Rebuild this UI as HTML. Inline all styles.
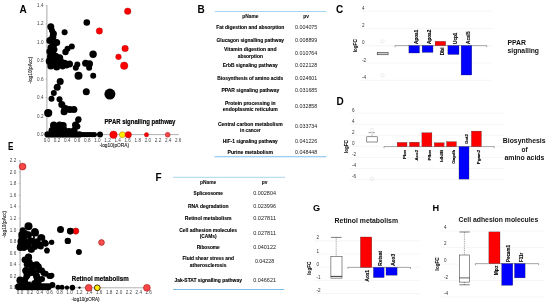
<!DOCTYPE html>
<html><head><meta charset="utf-8"><title>Figure</title>
<style>
html,body{margin:0;padding:0;background:#fff;}
body{width:550px;height:305px;overflow:hidden;}
svg{display:block;}
text{font-family:"Liberation Sans",sans-serif;fill:#000;}
.tk{font-size:4.6px;fill:#444;}
.tk2{font-size:4.6px;fill:#333;}
.ax{font-size:4.7px;fill:#222;stroke:#222;stroke-width:0.1px;}
.lbl{font-size:10px;font-weight:bold;}
.cal{font-weight:bold;fill:#000;stroke:#000;stroke-width:0.18px;}
.th{font-size:4.9px;font-weight:bold;fill:#111;stroke:#111;stroke-width:0.08px;}
.td{font-size:4.9px;font-weight:bold;fill:#000;stroke:#000;stroke-width:0.1px;}
.pv{font-size:5.1px;fill:#222;}
.gl{font-weight:bold;fill:#000;stroke:#000;stroke-width:0.12px;}
.lf{font-size:4.6px;stroke:#111;stroke-width:0.1px;font-weight:bold;fill:#111;}
.ttl{font-size:7.2px;font-weight:bold;fill:#111;}
</style></head><body>
<svg width="550" height="305" viewBox="0 0 550 305">
<rect x="0" y="0" width="550" height="305" fill="#fff"/>
<g id="panelA">
<line x1="46.9" y1="5.2" x2="46.9" y2="134.5" stroke="#909090" stroke-width="0.8"/>
<line x1="46.9" y1="134.6" x2="178.8" y2="134.6" stroke="#a8a8a8" stroke-width="0.9"/>
<line x1="45.5" y1="134.5" x2="46.9" y2="134.5" stroke="#9a9a9a" stroke-width="0.5"/>
<text x="43.5" y="136.1" class="tk" text-anchor="end">0.0</text>
<line x1="45.5" y1="116.0" x2="46.9" y2="116.0" stroke="#9a9a9a" stroke-width="0.5"/>
<text x="43.5" y="117.6" class="tk" text-anchor="end">0.2</text>
<line x1="45.5" y1="97.6" x2="46.9" y2="97.6" stroke="#9a9a9a" stroke-width="0.5"/>
<text x="43.5" y="99.2" class="tk" text-anchor="end">0.4</text>
<line x1="45.5" y1="79.1" x2="46.9" y2="79.1" stroke="#9a9a9a" stroke-width="0.5"/>
<text x="43.5" y="80.7" class="tk" text-anchor="end">0.6</text>
<line x1="45.5" y1="60.7" x2="46.9" y2="60.7" stroke="#9a9a9a" stroke-width="0.5"/>
<text x="43.5" y="62.3" class="tk" text-anchor="end">0.8</text>
<line x1="45.5" y1="42.2" x2="46.9" y2="42.2" stroke="#9a9a9a" stroke-width="0.5"/>
<text x="43.5" y="43.8" class="tk" text-anchor="end">1.0</text>
<line x1="45.5" y1="23.7" x2="46.9" y2="23.7" stroke="#9a9a9a" stroke-width="0.5"/>
<text x="43.5" y="25.3" class="tk" text-anchor="end">1.2</text>
<line x1="45.5" y1="5.3" x2="46.9" y2="5.3" stroke="#9a9a9a" stroke-width="0.5"/>
<text x="43.5" y="6.9" class="tk" text-anchor="end">1.4</text>
<text x="46.9" y="141.7" class="tk" text-anchor="middle">0.0</text>
<text x="57.0" y="141.7" class="tk" text-anchor="middle">0.2</text>
<text x="67.1" y="141.7" class="tk" text-anchor="middle">0.4</text>
<text x="77.2" y="141.7" class="tk" text-anchor="middle">0.6</text>
<text x="87.3" y="141.7" class="tk" text-anchor="middle">0.8</text>
<text x="97.4" y="141.7" class="tk" text-anchor="middle">1.0</text>
<text x="107.5" y="141.7" class="tk" text-anchor="middle">1.2</text>
<text x="117.6" y="141.7" class="tk" text-anchor="middle">1.4</text>
<text x="127.7" y="141.7" class="tk" text-anchor="middle">1.6</text>
<text x="137.8" y="141.7" class="tk" text-anchor="middle">1.8</text>
<text x="147.9" y="141.7" class="tk" text-anchor="middle">2.0</text>
<text x="158.0" y="141.7" class="tk" text-anchor="middle">2.2</text>
<text x="168.1" y="141.7" class="tk" text-anchor="middle">2.4</text>
<text x="178.2" y="141.7" class="tk" text-anchor="middle">2.6</text>
<text x="99.5" y="146.9" class="ax" textLength="29.5" lengthAdjust="spacingAndGlyphs">-log10(pORA)</text>
<text transform="translate(32.4,83.7) rotate(-90)" class="ax" textLength="27" lengthAdjust="spacingAndGlyphs">-log10(pAcc)</text>
<circle cx="86.8" cy="22.5" r="3.3" fill="#000"/>
<circle cx="50.8" cy="26.8" r="3.5" fill="#000"/>
<circle cx="64.6" cy="32.3" r="3" fill="#000"/>
<circle cx="53.4" cy="33.7" r="3.5" fill="#000"/>
<circle cx="52.8" cy="37.6" r="3.5" fill="#000"/>
<circle cx="49.8" cy="40.5" r="3.5" fill="#000"/>
<circle cx="56.7" cy="42.5" r="3.5" fill="#000"/>
<circle cx="53.8" cy="44.5" r="3.5" fill="#000"/>
<circle cx="71.8" cy="46.4" r="3" fill="#000"/>
<circle cx="67.5" cy="48.8" r="3" fill="#000"/>
<circle cx="65.5" cy="52" r="3.2" fill="#000"/>
<circle cx="49.8" cy="51.4" r="3.5" fill="#000"/>
<circle cx="52.8" cy="53.3" r="3.5" fill="#000"/>
<circle cx="93.1" cy="54.3" r="3.7" fill="#000"/>
<circle cx="55.7" cy="56.3" r="3.5" fill="#000"/>
<circle cx="59.7" cy="57.8" r="3.5" fill="#000"/>
<circle cx="49.8" cy="61.2" r="4" fill="#000"/>
<circle cx="54.7" cy="61.2" r="4" fill="#000"/>
<circle cx="60.6" cy="61.2" r="3.5" fill="#000"/>
<circle cx="64.6" cy="63.2" r="3.5" fill="#000"/>
<circle cx="69.5" cy="64.1" r="3.5" fill="#000"/>
<circle cx="85.6" cy="63.2" r="3.5" fill="#000"/>
<circle cx="89.5" cy="63.7" r="3.5" fill="#000"/>
<circle cx="77.3" cy="64.5" r="3" fill="#000"/>
<circle cx="75.8" cy="67.7" r="3" fill="#000"/>
<circle cx="89.1" cy="67.7" r="3" fill="#000"/>
<circle cx="50.8" cy="66.1" r="3.5" fill="#000"/>
<circle cx="56.7" cy="67.1" r="3.5" fill="#000"/>
<circle cx="62.6" cy="66.5" r="3" fill="#000"/>
<circle cx="78.5" cy="75.7" r="4" fill="#000"/>
<circle cx="93.2" cy="75.7" r="3" fill="#000"/>
<circle cx="60.2" cy="81.5" r="3.5" fill="#000"/>
<circle cx="57.2" cy="87.2" r="3.5" fill="#000"/>
<circle cx="53.8" cy="92.9" r="3" fill="#000"/>
<circle cx="86.3" cy="91.8" r="3.5" fill="#000"/>
<circle cx="109.9" cy="94.1" r="5.5" fill="#000"/>
<circle cx="51.5" cy="98.7" r="3" fill="#000"/>
<circle cx="59.5" cy="99.3" r="3" fill="#000"/>
<circle cx="61.8" cy="104.4" r="3.5" fill="#000"/>
<circle cx="65.2" cy="109" r="4" fill="#000"/>
<circle cx="64.1" cy="111.7" r="3.5" fill="#000"/>
<circle cx="69.8" cy="109.4" r="3.5" fill="#000"/>
<circle cx="73.9" cy="109.4" r="3.5" fill="#000"/>
<circle cx="48.2" cy="113.1" r="4.1" fill="#000"/>
<circle cx="78.5" cy="119.3" r="3" fill="#000"/>
<circle cx="75.5" cy="125" r="3.5" fill="#000"/>
<circle cx="53.8" cy="125" r="3.5" fill="#000"/>
<circle cx="59.5" cy="125" r="3.5" fill="#000"/>
<circle cx="62.9" cy="125" r="3" fill="#000"/>
<circle cx="56" cy="129.1" r="3.5" fill="#000"/>
<circle cx="64.1" cy="130.1" r="3.5" fill="#000"/>
<circle cx="68.7" cy="131.5" r="3.0" fill="#000"/>
<circle cx="74.4" cy="130.1" r="3" fill="#000"/>
<circle cx="100" cy="134.5" r="3" fill="#000"/>
<circle cx="51" cy="47.5" r="3.5" fill="#000"/>
<circle cx="54.5" cy="49.5" r="3" fill="#000"/>
<circle cx="50.5" cy="56.5" r="3.5" fill="#000"/>
<circle cx="57.5" cy="62.5" r="3.5" fill="#000"/>
<circle cx="52" cy="30.5" r="3" fill="#000"/>
<circle cx="53" cy="64" r="3.5" fill="#000"/>
<circle cx="60" cy="64.5" r="3" fill="#000"/>
<circle cx="66.5" cy="65.5" r="3" fill="#000"/>
<circle cx="53.6" cy="125.5" r="3.5" fill="#000"/>
<circle cx="60.2" cy="125.5" r="3.5" fill="#000"/>
<circle cx="63.5" cy="125.5" r="3.2" fill="#000"/>
<circle cx="78.2" cy="120.1" r="3" fill="#000"/>
<circle cx="77.4" cy="126.4" r="3" fill="#000"/>
<circle cx="52" cy="130.5" r="3.5" fill="#000"/>
<circle cx="62.6" cy="129.6" r="3.5" fill="#000"/>
<circle cx="69.2" cy="131.3" r="3.2" fill="#000"/>
<circle cx="74.1" cy="130.5" r="3.2" fill="#000"/>
<circle cx="58" cy="130.5" r="3.2" fill="#000"/>
<circle cx="66" cy="131.5" r="3" fill="#000"/>
<circle cx="47.5" cy="134.4" r="3.1" fill="#000"/>
<circle cx="50.4" cy="134.4" r="3.1" fill="#000"/>
<circle cx="53.3" cy="134.4" r="3.1" fill="#000"/>
<circle cx="56.2" cy="134.4" r="3.1" fill="#000"/>
<circle cx="59.1" cy="134.4" r="3.1" fill="#000"/>
<circle cx="62.0" cy="134.4" r="3.1" fill="#000"/>
<circle cx="64.9" cy="134.4" r="3.1" fill="#000"/>
<circle cx="67.8" cy="134.4" r="3.1" fill="#000"/>
<circle cx="70.7" cy="134.4" r="3.1" fill="#000"/>
<circle cx="73.6" cy="134.4" r="3.1" fill="#000"/>
<circle cx="76.5" cy="134.4" r="3.1" fill="#000"/>
<circle cx="79.4" cy="134.4" r="3.1" fill="#000"/>
<circle cx="80.0" cy="134.6" r="2.6" fill="#000"/>
<circle cx="82.4" cy="134.6" r="2.6" fill="#000"/>
<circle cx="84.8" cy="134.6" r="2.6" fill="#000"/>
<circle cx="87.2" cy="134.6" r="2.6" fill="#000"/>
<circle cx="89.6" cy="134.6" r="2.6" fill="#000"/>
<circle cx="92.0" cy="134.6" r="2.6" fill="#000"/>
<circle cx="94.4" cy="134.6" r="2.6" fill="#000"/>
<circle cx="127.7" cy="11.2" r="3.3" fill="#ff0000" stroke="#7a0000" stroke-width="0.3"/>
<circle cx="99.4" cy="31.0" r="3.2" fill="#ff0000" stroke="#7a0000" stroke-width="0.3"/>
<circle cx="125.1" cy="48.5" r="3.3" fill="#ff0000" stroke="#7a0000" stroke-width="0.3"/>
<circle cx="118.5" cy="56.8" r="2.9" fill="#ff0000" stroke="#7a0000" stroke-width="0.3"/>
<circle cx="124.2" cy="65.7" r="3.8" fill="#ff0000" stroke="#7a0000" stroke-width="0.3"/>
<circle cx="113.5" cy="134.7" r="3.8" fill="#ff0000" stroke="#7a0000" stroke-width="0.3"/>
<circle cx="122.3" cy="134.7" r="3" fill="#ffee00" stroke="#7a0000" stroke-width="0.3"/>
<circle cx="128.3" cy="134.7" r="3.2" fill="#ff0000" stroke="#7a0000" stroke-width="0.3"/>
<circle cx="146.5" cy="134.7" r="2.2" fill="#ff0000" stroke="#7a0000" stroke-width="0.3"/>
<circle cx="167.7" cy="134.7" r="2.5" fill="#f64545" stroke="#7a0000" stroke-width="0.3"/>
<text x="104.4" y="124" class="cal" font-size="7.6" textLength="71" lengthAdjust="spacingAndGlyphs">PPAR signalling pathway</text>
<text x="19.4" y="12.8" class="lbl">A</text>
</g>
<g id="panelE">
<line x1="20.1" y1="160.5" x2="20.1" y2="287.8" stroke="#8c8c8c" stroke-width="0.8"/>
<line x1="19.8" y1="287.8" x2="149" y2="287.8" stroke="#a8a8a8" stroke-width="0.9"/>
<line x1="18.6" y1="287.6" x2="20.1" y2="287.6" stroke="#9a9a9a" stroke-width="0.5"/>
<text x="16.2" y="289.2" class="tk" text-anchor="end">0.0</text>
<line x1="18.6" y1="276.1" x2="20.1" y2="276.1" stroke="#9a9a9a" stroke-width="0.5"/>
<text x="16.2" y="277.7" class="tk" text-anchor="end">0.2</text>
<line x1="18.6" y1="264.5" x2="20.1" y2="264.5" stroke="#9a9a9a" stroke-width="0.5"/>
<text x="16.2" y="266.1" class="tk" text-anchor="end">0.4</text>
<line x1="18.6" y1="253.0" x2="20.1" y2="253.0" stroke="#9a9a9a" stroke-width="0.5"/>
<text x="16.2" y="254.6" class="tk" text-anchor="end">0.6</text>
<line x1="18.6" y1="241.4" x2="20.1" y2="241.4" stroke="#9a9a9a" stroke-width="0.5"/>
<text x="16.2" y="243.0" class="tk" text-anchor="end">0.8</text>
<line x1="18.6" y1="229.9" x2="20.1" y2="229.9" stroke="#9a9a9a" stroke-width="0.5"/>
<text x="16.2" y="231.5" class="tk" text-anchor="end">1.0</text>
<line x1="18.6" y1="218.3" x2="20.1" y2="218.3" stroke="#9a9a9a" stroke-width="0.5"/>
<text x="16.2" y="219.9" class="tk" text-anchor="end">1.2</text>
<line x1="18.6" y1="206.8" x2="20.1" y2="206.8" stroke="#9a9a9a" stroke-width="0.5"/>
<text x="16.2" y="208.3" class="tk" text-anchor="end">1.4</text>
<line x1="18.6" y1="195.2" x2="20.1" y2="195.2" stroke="#9a9a9a" stroke-width="0.5"/>
<text x="16.2" y="196.8" class="tk" text-anchor="end">1.6</text>
<line x1="18.6" y1="183.7" x2="20.1" y2="183.7" stroke="#9a9a9a" stroke-width="0.5"/>
<text x="16.2" y="185.3" class="tk" text-anchor="end">1.8</text>
<line x1="18.6" y1="172.1" x2="20.1" y2="172.1" stroke="#9a9a9a" stroke-width="0.5"/>
<text x="16.2" y="173.7" class="tk" text-anchor="end">2.0</text>
<line x1="18.6" y1="160.6" x2="20.1" y2="160.6" stroke="#9a9a9a" stroke-width="0.5"/>
<text x="16.2" y="162.2" class="tk" text-anchor="end">2.2</text>
<text x="20.0" y="294.1" class="tk" text-anchor="middle">0.0</text>
<text x="29.9" y="294.1" class="tk" text-anchor="middle">0.2</text>
<text x="39.8" y="294.1" class="tk" text-anchor="middle">0.4</text>
<text x="49.7" y="294.1" class="tk" text-anchor="middle">0.6</text>
<text x="59.6" y="294.1" class="tk" text-anchor="middle">0.8</text>
<text x="69.5" y="294.1" class="tk" text-anchor="middle">1.0</text>
<text x="79.4" y="294.1" class="tk" text-anchor="middle">1.2</text>
<text x="89.3" y="294.1" class="tk" text-anchor="middle">1.4</text>
<text x="99.2" y="294.1" class="tk" text-anchor="middle">1.6</text>
<text x="109.1" y="294.1" class="tk" text-anchor="middle">1.8</text>
<text x="119.0" y="294.1" class="tk" text-anchor="middle">2.0</text>
<text x="128.9" y="294.1" class="tk" text-anchor="middle">2.2</text>
<text x="138.8" y="294.1" class="tk" text-anchor="middle">2.4</text>
<text x="148.7" y="294.1" class="tk" text-anchor="middle">2.6</text>
<text x="71.6" y="300.7" class="ax" textLength="28" lengthAdjust="spacingAndGlyphs">-log10(pORA)</text>
<text transform="translate(6.2,237.8) rotate(-90)" class="ax" textLength="27" lengthAdjust="spacingAndGlyphs">-log10(pAcc)</text>
<circle cx="28.5" cy="226.2" r="4" fill="#000"/>
<circle cx="60.5" cy="229.4" r="3.5" fill="#000"/>
<circle cx="70.3" cy="231.1" r="3.2" fill="#000"/>
<circle cx="22.8" cy="230.3" r="3" fill="#000"/>
<circle cx="34.6" cy="231.8" r="3.5" fill="#000"/>
<circle cx="22.3" cy="234.8" r="4" fill="#000"/>
<circle cx="28.5" cy="234.8" r="3.5" fill="#000"/>
<circle cx="40.8" cy="237.7" r="3.5" fill="#000"/>
<circle cx="23.5" cy="239.7" r="4" fill="#000"/>
<circle cx="30.9" cy="240.9" r="4" fill="#000"/>
<circle cx="37.1" cy="241.7" r="3.5" fill="#000"/>
<circle cx="67.8" cy="240.9" r="3.2" fill="#000"/>
<circle cx="51.8" cy="242.2" r="2.5" fill="#000"/>
<circle cx="45.7" cy="243.4" r="3" fill="#000"/>
<circle cx="21.1" cy="244.6" r="3.5" fill="#000"/>
<circle cx="27.2" cy="245.8" r="4" fill="#000"/>
<circle cx="34.6" cy="246.6" r="3.5" fill="#000"/>
<circle cx="40.8" cy="246.6" r="3" fill="#000"/>
<circle cx="30.9" cy="249.5" r="3" fill="#000"/>
<circle cx="46.9" cy="250" r="2.5" fill="#000"/>
<circle cx="78.9" cy="252" r="3" fill="#000"/>
<circle cx="28.5" cy="256.9" r="3.5" fill="#000"/>
<circle cx="24.8" cy="259.4" r="3" fill="#000"/>
<circle cx="27.2" cy="264.3" r="3.5" fill="#000"/>
<circle cx="33.4" cy="265.5" r="3.5" fill="#000"/>
<circle cx="38.3" cy="266.8" r="3.5" fill="#000"/>
<circle cx="26" cy="270.5" r="3.5" fill="#000"/>
<circle cx="42" cy="270.5" r="3" fill="#000"/>
<circle cx="30.9" cy="272.9" r="3.2" fill="#000"/>
<circle cx="45.7" cy="273.7" r="3" fill="#000"/>
<circle cx="49.4" cy="276.1" r="3" fill="#000"/>
<circle cx="20.2" cy="280.2" r="3.8" fill="#000"/>
<circle cx="26" cy="279.1" r="3.5" fill="#000"/>
<circle cx="37.1" cy="277.9" r="3.5" fill="#000"/>
<circle cx="42" cy="279.1" r="3" fill="#000"/>
<circle cx="22.3" cy="283.5" r="4" fill="#000"/>
<circle cx="34.6" cy="283.5" r="3.5" fill="#000"/>
<circle cx="79.5" cy="287.6" r="1.2" fill="#000"/>
<circle cx="25" cy="233.5" r="3.5" fill="#000"/>
<circle cx="22" cy="237.5" r="3.5" fill="#000"/>
<circle cx="35.4" cy="232.9" r="3.5" fill="#000"/>
<circle cx="45.5" cy="243.5" r="3" fill="#000"/>
<circle cx="31.5" cy="249.3" r="3.5" fill="#000"/>
<circle cx="20.3" cy="247.4" r="3.5" fill="#000"/>
<circle cx="47" cy="250.9" r="2.6" fill="#000"/>
<circle cx="51.5" cy="242.3" r="2.5" fill="#000"/>
<circle cx="23.4" cy="233" r="3.5" fill="#000"/>
<circle cx="35.2" cy="231.8" r="3.5" fill="#000"/>
<circle cx="31.7" cy="237.5" r="3.2" fill="#000"/>
<circle cx="41.8" cy="237.7" r="3.5" fill="#000"/>
<circle cx="21" cy="241.2" r="3.5" fill="#000"/>
<circle cx="27" cy="242.4" r="3.5" fill="#000"/>
<circle cx="38.8" cy="242.4" r="3.5" fill="#000"/>
<circle cx="44.7" cy="242.4" r="3" fill="#000"/>
<circle cx="19.9" cy="247.1" r="3" fill="#000"/>
<circle cx="31" cy="248.8" r="3" fill="#000"/>
<circle cx="40" cy="246" r="3" fill="#000"/>
<circle cx="47" cy="250.2" r="2.5" fill="#000"/>
<circle cx="24" cy="248" r="3" fill="#000"/>
<circle cx="28.6" cy="257.3" r="3.5" fill="#000"/>
<circle cx="24.6" cy="260" r="3" fill="#000"/>
<circle cx="29.3" cy="262.5" r="3.5" fill="#000"/>
<circle cx="36.4" cy="264.8" r="3.5" fill="#000"/>
<circle cx="31.7" cy="268.3" r="3.5" fill="#000"/>
<circle cx="38.8" cy="269.5" r="3.5" fill="#000"/>
<circle cx="25.8" cy="270.7" r="3.5" fill="#000"/>
<circle cx="43.5" cy="273" r="3" fill="#000"/>
<circle cx="50.5" cy="276.1" r="2.8" fill="#000"/>
<circle cx="27" cy="275.4" r="3.5" fill="#000"/>
<circle cx="36.4" cy="275.4" r="3.5" fill="#000"/>
<circle cx="23.4" cy="281.3" r="3.5" fill="#000"/>
<circle cx="37.6" cy="281.8" r="4" fill="#000"/>
<circle cx="28" cy="283.5" r="3" fill="#000"/>
<circle cx="33.5" cy="272" r="3" fill="#000"/>
<circle cx="51.6" cy="275.6" r="2.8" fill="#000"/>
<circle cx="52.4" cy="285" r="3" fill="#000"/>
<circle cx="58" cy="287.2" r="2.5" fill="#000"/>
<circle cx="62" cy="287.2" r="2.5" fill="#000"/>
<circle cx="67" cy="287.6" r="2.2" fill="#000"/>
<circle cx="72.4" cy="287.6" r="2.8" fill="#000"/>
<circle cx="18.5" cy="286.8" r="3.5" fill="#000"/>
<circle cx="21.2" cy="286.8" r="3.5" fill="#000"/>
<circle cx="23.9" cy="286.8" r="3.5" fill="#000"/>
<circle cx="26.6" cy="286.8" r="3.5" fill="#000"/>
<circle cx="29.3" cy="286.8" r="3.5" fill="#000"/>
<circle cx="32.0" cy="286.8" r="3.5" fill="#000"/>
<circle cx="34.7" cy="286.8" r="3.5" fill="#000"/>
<circle cx="37.400000000000006" cy="286.8" r="3.5" fill="#000"/>
<circle cx="40.1" cy="286.8" r="3.5" fill="#000"/>
<circle cx="42.8" cy="286.8" r="3.5" fill="#000"/>
<circle cx="45.5" cy="286.8" r="3.5" fill="#000"/>
<circle cx="48.2" cy="286.8" r="3.5" fill="#000"/>
<ellipse cx="30.1" cy="279.6" rx="2.7" ry="1.5" transform="rotate(-42 30.1 279.6)" fill="#fff"/>
<circle cx="22.6" cy="166.6" r="3.4" fill="#f84545" stroke="#9a1414" stroke-width="0.6"/>
<circle cx="75.8" cy="231.1" r="3.1" fill="#ff0000" stroke="#9a1414" stroke-width="0.6"/>
<circle cx="101.5" cy="242.5" r="2.9" fill="#f84d4d" stroke="#9a1414" stroke-width="0.6"/>
<circle cx="88.7" cy="287.8" r="3.4" fill="#f84545" stroke="#9a1414" stroke-width="0.6"/>
<circle cx="146.9" cy="287.8" r="3.4" fill="#f84545" stroke="#9a1414" stroke-width="0.6"/>
<circle cx="97.3" cy="287.8" r="2.9" fill="#ffee00" stroke="#200" stroke-width="0.8"/>
<circle cx="70.3" cy="231.1" r="3.4" fill="#000"/>
<circle cx="32.3" cy="236.9" r="0.9" fill="#fff"/>
<circle cx="41.1" cy="241.1" r="0.7" fill="#fff"/>
<text x="71.7" y="281.3" class="cal" font-size="7.5" textLength="57" lengthAdjust="spacingAndGlyphs">Retinol metabolism</text>
<text x="7.9" y="150.2" class="lbl" textLength="5.4" lengthAdjust="spacingAndGlyphs">E</text>
</g>
<g id="tableB">
<text x="197.6" y="13.2" class="lbl">B</text>
<line x1="214.8" y1="11.5" x2="326.4" y2="11.5" stroke="#6cb8e6" stroke-width="0.6"/>
<line x1="214.5" y1="156.7" x2="326.4" y2="156.7" stroke="#7cc0ea" stroke-width="1.1"/>
<text x="250.3" y="18" class="th" text-anchor="middle">pName</text>
<text x="306.2" y="18" class="th" text-anchor="middle">pv</text>
<text x="216.2" y="28.7" class="td" textLength="68.2" lengthAdjust="spacingAndGlyphs">Fat digestion and absorption</text>
<text x="295.1" y="28.7" class="pv" textLength="22.2" lengthAdjust="spacingAndGlyphs">0.004075</text>
<text x="216.5" y="41.6" class="td" textLength="67.6" lengthAdjust="spacingAndGlyphs">Glucagon signalling pathway</text>
<text x="295.1" y="41.6" class="pv" textLength="22.2" lengthAdjust="spacingAndGlyphs">0.008899</text>
<text x="224.1" y="51.3" class="td" textLength="52.4" lengthAdjust="spacingAndGlyphs">Vitamin digestion and</text>
<text x="237.7" y="57.6" class="td" textLength="25.2" lengthAdjust="spacingAndGlyphs">absorption</text>
<text x="295.1" y="54.7" class="pv" textLength="22.2" lengthAdjust="spacingAndGlyphs">0.010764</text>
<text x="222.8" y="67.0" class="td" textLength="55.0" lengthAdjust="spacingAndGlyphs">ErbB signaling pathway</text>
<text x="295.1" y="67.0" class="pv" textLength="22.2" lengthAdjust="spacingAndGlyphs">0.022128</text>
<text x="217.3" y="79.6" class="td" textLength="66.0" lengthAdjust="spacingAndGlyphs">Biosynthesis of amino acids</text>
<text x="295.1" y="79.6" class="pv" textLength="22.2" lengthAdjust="spacingAndGlyphs">0.024601</text>
<text x="221.5" y="92.4" class="td" textLength="57.7" lengthAdjust="spacingAndGlyphs">PPAR signaling pathway</text>
<text x="295.1" y="92.4" class="pv" textLength="22.2" lengthAdjust="spacingAndGlyphs">0.031685</text>
<text x="225.0" y="104.7" class="td" textLength="50.6" lengthAdjust="spacingAndGlyphs">Protein processing in</text>
<text x="222.8" y="111.0" class="td" textLength="55.0" lengthAdjust="spacingAndGlyphs">endoplasmic reticulum</text>
<text x="295.1" y="108.2" class="pv" textLength="22.2" lengthAdjust="spacingAndGlyphs">0.032858</text>
<text x="217.9" y="125.7" class="td" textLength="64.8" lengthAdjust="spacingAndGlyphs">Central carbon metabolism</text>
<text x="240.1" y="132.0" class="td" textLength="20.5" lengthAdjust="spacingAndGlyphs">in cancer</text>
<text x="295.1" y="128.4" class="pv" textLength="22.2" lengthAdjust="spacingAndGlyphs">0.033734</text>
<text x="222.8" y="143.1" class="td" textLength="55.0" lengthAdjust="spacingAndGlyphs">HIF-1 signaling pathway</text>
<text x="295.1" y="143.1" class="pv" textLength="22.2" lengthAdjust="spacingAndGlyphs">0.041226</text>
<text x="227.6" y="153.7" class="td" textLength="45.4" lengthAdjust="spacingAndGlyphs">Purine metabolism</text>
<text x="295.1" y="153.7" class="pv" textLength="22.2" lengthAdjust="spacingAndGlyphs">0.048448</text>
</g>
<g id="tableF">
<text x="155.5" y="180.5" class="lbl">F</text>
<line x1="173" y1="177.3" x2="285" y2="177.3" stroke="#6cb8e6" stroke-width="0.6"/>
<line x1="173" y1="289.5" x2="284.3" y2="289.5" stroke="#7cc0ea" stroke-width="1.1"/>
<text x="208.2" y="184.2" class="th" text-anchor="middle">pName</text>
<text x="264.6" y="184.2" class="th" text-anchor="middle">pv</text>
<text x="193.5" y="195.3" class="td" textLength="29.4" lengthAdjust="spacingAndGlyphs">Spliceosome</text>
<text x="253.2" y="195.3" class="pv" textLength="22.8" lengthAdjust="spacingAndGlyphs">0.002804</text>
<text x="187.9" y="207.8" class="td" textLength="40.6" lengthAdjust="spacingAndGlyphs">RNA degradation</text>
<text x="253.2" y="207.8" class="pv" textLength="22.8" lengthAdjust="spacingAndGlyphs">0.023996</text>
<text x="184.8" y="219.9" class="td" textLength="46.7" lengthAdjust="spacingAndGlyphs">Retinol metabolism</text>
<text x="253.2" y="219.9" class="pv" textLength="22.8" lengthAdjust="spacingAndGlyphs">0.027811</text>
<text x="179.3" y="231.5" class="td" textLength="57.7" lengthAdjust="spacingAndGlyphs">Cell adhesion molecules</text>
<text x="199.7" y="238.1" class="td" textLength="17.0" lengthAdjust="spacingAndGlyphs">(CAMs)</text>
<text x="253.2" y="234.6" class="pv" textLength="22.8" lengthAdjust="spacingAndGlyphs">0.027811</text>
<text x="196.7" y="249.0" class="td" textLength="23.0" lengthAdjust="spacingAndGlyphs">Ribosome</text>
<text x="253.2" y="249.0" class="pv" textLength="22.8" lengthAdjust="spacingAndGlyphs">0.040122</text>
<text x="182.4" y="260.3" class="td" textLength="51.6" lengthAdjust="spacingAndGlyphs">Fluid shear stress and</text>
<text x="189.8" y="267.1" class="td" textLength="36.7" lengthAdjust="spacingAndGlyphs">atherosclerosis</text>
<text x="254.9" y="263.4" class="pv" textLength="19.4" lengthAdjust="spacingAndGlyphs">0.04228</text>
<text x="174.5" y="281.5" class="td" textLength="67.4" lengthAdjust="spacingAndGlyphs">Jak-STAT signalling pathway</text>
<text x="253.2" y="281.5" class="pv" textLength="22.8" lengthAdjust="spacingAndGlyphs">0.046621</text>
</g>
<g id="panelC">
<text x="336" y="13" class="lbl">C</text>
<line x1="360.6" y1="11.2" x2="492" y2="11.2" stroke="#ececec" stroke-width="0.5"/>
<text x="362.1" y="9.8" class="tk2">4</text>
<line x1="360.6" y1="28.5" x2="492" y2="28.5" stroke="#ececec" stroke-width="0.5"/>
<text x="362.1" y="27.1" class="tk2">2</text>
<line x1="360.6" y1="45.8" x2="492" y2="45.8" stroke="#ececec" stroke-width="0.5"/>
<text x="362.1" y="44.4" class="tk2">0</text>
<line x1="360.6" y1="63.0" x2="492" y2="63.0" stroke="#ececec" stroke-width="0.5"/>
<text x="362.1" y="61.6" class="tk2">-2</text>
<line x1="360.6" y1="80.3" x2="492" y2="80.3" stroke="#ececec" stroke-width="0.5"/>
<text x="362.1" y="78.9" class="tk2">-4</text>
<text transform="translate(357.2,45.8) rotate(-90)" class="lf" text-anchor="middle">logFC</text>
<circle cx="382.5" cy="41.3" r="1.7" fill="none" stroke="#d0d0d0" stroke-width="0.4"/>
<circle cx="382.5" cy="75.3" r="1.7" fill="none" stroke="#d0d0d0" stroke-width="0.4"/>
<rect x="377.2" y="52.3" width="10.9" height="2.5" fill="#ccc" stroke="#222" stroke-width="0.5"/>
<path d="M395 47.2 V45.6 H486.7 V47.2" fill="none" stroke="#555" stroke-width="0.5"/>
<rect x="408.9" y="45.6" width="10.6" height="7.4" fill="#0000ff" stroke="#333" stroke-width="0.3"/>
<text transform="translate(417.8,44.0) rotate(-90)" class="gl" font-size="4.7" text-anchor="start">Apoa1</text>
<rect x="422.1" y="45.6" width="10.9" height="6.8" fill="#0000ff" stroke="#333" stroke-width="0.3"/>
<text transform="translate(431.2,44.0) rotate(-90)" class="gl" font-size="4.7" text-anchor="start">Apoa2</text>
<rect x="435.1" y="41.3" width="10.6" height="4.3" fill="#ff0000" stroke="#333" stroke-width="0.3"/>
<text transform="translate(444.0,47.3) rotate(-90)" class="gl" font-size="4.9" text-anchor="end">Dbi</text>
<rect x="447.9" y="45.6" width="11.1" height="8.9" fill="#0000ff" stroke="#333" stroke-width="0.3"/>
<text transform="translate(457.1,44.0) rotate(-90)" class="gl" font-size="4.7" text-anchor="start">Ucp1</text>
<rect x="461.1" y="45.6" width="10.7" height="29.4" fill="#0000ff" stroke="#333" stroke-width="0.3"/>
<text transform="translate(470.1,44.0) rotate(-90)" class="gl" font-size="4.7" text-anchor="start">Acsl5</text>
<text x="507.5" y="45.0" class="ttl" textLength="18.5" lengthAdjust="spacingAndGlyphs">PPAR</text>
<text x="507.5" y="52.6" class="ttl" textLength="31.5" lengthAdjust="spacingAndGlyphs">signalling</text>
</g>
<g id="panelD">
<text x="336.4" y="104.7" class="lbl">D</text>
<line x1="349.8" y1="113.2" x2="504" y2="113.2" stroke="#ececec" stroke-width="0.5"/>
<text x="352" y="111.5" class="tk2">6</text>
<line x1="349.8" y1="124.3" x2="504" y2="124.3" stroke="#ececec" stroke-width="0.5"/>
<text x="352" y="122.6" class="tk2">4</text>
<line x1="349.8" y1="135.3" x2="504" y2="135.3" stroke="#ececec" stroke-width="0.5"/>
<text x="352" y="133.6" class="tk2">2</text>
<line x1="349.8" y1="146.4" x2="504" y2="146.4" stroke="#ececec" stroke-width="0.5"/>
<text x="352" y="144.7" class="tk2">0</text>
<line x1="349.8" y1="157.5" x2="504" y2="157.5" stroke="#ececec" stroke-width="0.5"/>
<text x="352" y="155.8" class="tk2">-2</text>
<line x1="349.8" y1="168.6" x2="504" y2="168.6" stroke="#ececec" stroke-width="0.5"/>
<text x="352" y="166.9" class="tk2">-4</text>
<line x1="349.8" y1="179.6" x2="504" y2="179.6" stroke="#ececec" stroke-width="0.5"/>
<text x="352" y="177.9" class="tk2">-6</text>
<text transform="translate(347.8,146.6) rotate(-90)" class="lf" text-anchor="middle">logFC</text>
<circle cx="372" cy="130" r="1.6" fill="none" stroke="#d0d0d0" stroke-width="0.4"/>
<circle cx="372" cy="178.8" r="1.6" fill="none" stroke="#d0d0d0" stroke-width="0.4"/>
<line x1="372" y1="132.6" x2="372" y2="136.8" stroke="#444" stroke-width="0.4" stroke-dasharray="0.8 0.6"/>
<line x1="368.5" y1="132.6" x2="375.5" y2="132.6" stroke="#444" stroke-width="0.5" stroke-dasharray="2.6 1.2"/>
<rect x="366.8" y="136.8" width="10.4" height="5.2" fill="#fff" stroke="#222" stroke-width="0.5"/>
<path d="M384 148.2 V146.6 H494.2 V148.2" fill="none" stroke="#555" stroke-width="0.5"/>
<rect x="397.2" y="142.4" width="9.8" height="4.2" fill="#ff0000" stroke="#333" stroke-width="0.3"/>
<text transform="translate(406.0,149.8) rotate(-90)" class="gl" font-size="4.4" text-anchor="end">Pkm</text>
<rect x="409.5" y="142.2" width="9.8" height="4.4" fill="#ff0000" stroke="#333" stroke-width="0.3"/>
<text transform="translate(418.3,149.8) rotate(-90)" class="gl" font-size="4.4" text-anchor="end">Aco2</text>
<rect x="421.9" y="132.8" width="10.0" height="13.8" fill="#ff0000" stroke="#333" stroke-width="0.3"/>
<text transform="translate(430.8,149.8) rotate(-90)" class="gl" font-size="4.4" text-anchor="end">Pfkm</text>
<rect x="434.3" y="142.8" width="9.8" height="3.8" fill="#ff0000" stroke="#333" stroke-width="0.3"/>
<text transform="translate(443.1,149.8) rotate(-90)" class="gl" font-size="4.4" text-anchor="end">Idh3B</text>
<rect x="446.6" y="141.7" width="9.8" height="4.9" fill="#ff0000" stroke="#333" stroke-width="0.3"/>
<text transform="translate(455.4,149.8) rotate(-90)" class="gl" font-size="4.4" text-anchor="end">Gapdh</text>
<rect x="459" y="146.6" width="10.0" height="32.5" fill="#0000ff" stroke="#333" stroke-width="0.3"/>
<text transform="translate(467.9,144.0) rotate(-90)" class="gl" font-size="4.4" text-anchor="start">Got2</text>
<rect x="471.4" y="131.1" width="10.0" height="15.5" fill="#ff0000" stroke="#333" stroke-width="0.3"/>
<text transform="translate(480.3,149.8) rotate(-90)" class="gl" font-size="4.4" text-anchor="end">Pgam2</text>
<text x="502.8" y="143.0" class="ttl" textLength="42.7" lengthAdjust="spacingAndGlyphs">Biosynthesis</text>
<text x="521.6" y="151.5" class="ttl" textLength="6.1" lengthAdjust="spacingAndGlyphs">of</text>
<text x="504.4" y="159.6" class="ttl" textLength="40" lengthAdjust="spacingAndGlyphs">amino acids</text>
</g>
<g id="panelG">
<text x="313.0" y="211.1" class="lbl" style="font-size:9.2px">G</text>
<text x="334.6" y="222.5" class="ttl" textLength="63.4" lengthAdjust="spacingAndGlyphs">Retinol metabolism</text>
<line x1="314" y1="240.8" x2="420" y2="240.8" stroke="#ececec" stroke-width="0.5"/>
<text x="316.4" y="239.3" class="tk2">2</text>
<line x1="314" y1="254.0" x2="420" y2="254.0" stroke="#ececec" stroke-width="0.5"/>
<text x="316.4" y="252.5" class="tk2">1</text>
<line x1="314" y1="267.2" x2="420" y2="267.2" stroke="#ececec" stroke-width="0.5"/>
<text x="316.4" y="265.7" class="tk2">0</text>
<line x1="314" y1="280.4" x2="420" y2="280.4" stroke="#ececec" stroke-width="0.5"/>
<text x="316.4" y="278.9" class="tk2">-1</text>
<line x1="314" y1="293.6" x2="420" y2="293.6" stroke="#ececec" stroke-width="0.5"/>
<text x="316.4" y="292.1" class="tk2">-2</text>
<text transform="translate(311.4,268.2) rotate(-90)" class="lf" text-anchor="middle">logFC</text>
<line x1="336.2" y1="237.4" x2="336.2" y2="256.3" stroke="#444" stroke-width="0.5" stroke-dasharray="1 0.8"/>
<line x1="331" y1="237.4" x2="341.6" y2="237.4" stroke="#222" stroke-width="0.6"/>
<rect x="330.9" y="256.3" width="11.1" height="21.8" fill="#fff" stroke="#222" stroke-width="0.5"/>
<line x1="330.9" y1="276.4" x2="342" y2="276.4" stroke="#222" stroke-width="0.9"/>
<path d="M347.9 269.0 V267.4 H410.5 V269.0" fill="none" stroke="#555" stroke-width="0.5"/>
<rect x="360.4" y="237.0" width="11.4" height="30.4" fill="#ff0000" stroke="#333" stroke-width="0.3"/>
<text transform="translate(369.3,270.0) rotate(-90)" class="gl" font-size="4.7" text-anchor="end">Aox1</text>
<rect x="373.4" y="267.4" width="10.7" height="10.2" fill="#0000ff" stroke="#333" stroke-width="0.3"/>
<text transform="translate(381.9,265.8) rotate(-90)" class="gl" font-size="4.9" text-anchor="start">Retsat</text>
<rect x="386" y="267.4" width="11.1" height="7.8" fill="#0000ff" stroke="#333" stroke-width="0.3"/>
<text transform="translate(394.8,265.8) rotate(-90)" class="gl" font-size="4.9" text-anchor="start">Aox3</text>
</g>
<g id="panelH">
<text x="432.4" y="211.2" class="lbl" style="font-size:9.2px">H</text>
<text x="458.6" y="222.4" class="ttl" textLength="79.6" lengthAdjust="spacingAndGlyphs">Cell adhesion molecules</text>
<line x1="440.6" y1="231.1" x2="545" y2="231.1" stroke="#ececec" stroke-width="0.5"/>
<text x="444" y="228.8" class="tk2">4</text>
<line x1="440.6" y1="247.6" x2="545" y2="247.6" stroke="#ececec" stroke-width="0.5"/>
<text x="444" y="245.4" class="tk2">2</text>
<line x1="440.6" y1="264.1" x2="545" y2="264.1" stroke="#ececec" stroke-width="0.5"/>
<text x="444" y="262.1" class="tk2">0</text>
<line x1="440.6" y1="280.6" x2="545" y2="280.6" stroke="#ececec" stroke-width="0.5"/>
<text x="444" y="278.8" class="tk2">-2</text>
<line x1="440.6" y1="297.1" x2="545" y2="297.1" stroke="#ececec" stroke-width="0.5"/>
<text x="444" y="295.4" class="tk2">-4</text>
<text transform="translate(439.3,263.9) rotate(-90)" class="lf" text-anchor="middle">logFC</text>
<line x1="464.4" y1="232" x2="464.4" y2="255" stroke="#444" stroke-width="0.5" stroke-dasharray="1 0.8"/>
<line x1="459.4" y1="232" x2="469.7" y2="232" stroke="#222" stroke-width="0.6"/>
<rect x="459.4" y="255" width="10.3" height="27.1" fill="#fff" stroke="#222" stroke-width="0.5"/>
<line x1="459.4" y1="277.9" x2="469.7" y2="277.9" stroke="#222" stroke-width="0.7"/>
<line x1="464.4" y1="282.1" x2="464.4" y2="284.8" stroke="#444" stroke-width="0.5" stroke-dasharray="1 0.8"/>
<line x1="459.4" y1="284.8" x2="469.7" y2="284.8" stroke="#222" stroke-width="0.6"/>
<path d="M475.4 265.20000000000005 V263.6 H538.6 V265.20000000000005" fill="none" stroke="#555" stroke-width="0.5"/>
<rect x="488.9" y="231.9" width="11.1" height="31.7" fill="#ff0000" stroke="#333" stroke-width="0.3"/>
<text transform="translate(497.6,265.6) rotate(-90)" class="gl" font-size="5.0" text-anchor="end">Mpz</text>
<rect x="501.7" y="263.6" width="11.1" height="21.7" fill="#0000ff" stroke="#333" stroke-width="0.3"/>
<text transform="translate(510.4,261.9) rotate(-90)" class="gl" font-size="4.5" text-anchor="start">Pecam1</text>
<rect x="514.5" y="263.6" width="10.6" height="14.3" fill="#0000ff" stroke="#333" stroke-width="0.3"/>
<text transform="translate(523.0,261.9) rotate(-90)" class="gl" font-size="4.5" text-anchor="start">F11r</text>
</g>
</svg>
</body></html>
